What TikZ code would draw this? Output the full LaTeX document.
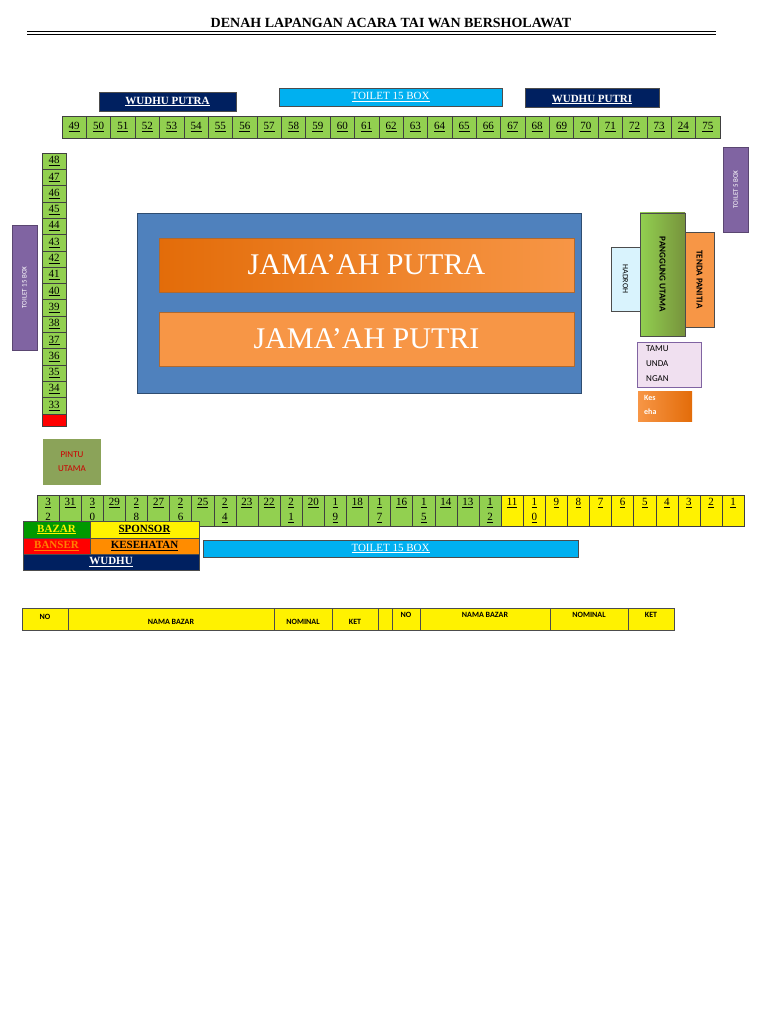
\documentclass[tikz,border=0pt]{standalone}
\usepackage{fontspec}
\setmainfont{Liberation Serif}
\newfontfamily\calib{Carlito}
\usetikzlibrary{shadows}
\begin{document}
\begin{tikzpicture}[x=1pt,y=-1pt,
 cell/.style={draw=black!75,line width=0.6pt},
 num/.style={font=\fontsize{11}{11}\selectfont},
 bx/.style={draw=black!70,line width=0.6pt},
 sans/.style={font=\calib\fontsize{9}{11}\selectfont}]
\definecolor{cg}{HTML}{92D050}
\definecolor{nv}{HTML}{002060}
\definecolor{cy}{HTML}{00B0F0}
\definecolor{pu}{HTML}{8064A2}
\definecolor{bl}{HTML}{4F81BD}
\definecolor{og}{HTML}{F79646}
\definecolor{ogd}{HTML}{E36C09}
\definecolor{dg}{HTML}{77933C}
\useasboundingbox (0,0) rectangle (768,1024);
\node[font=\bfseries\fontsize{14}{14}\selectfont] (title) at (391,23) {DENAH LAPANGAN ACARA TAI WAN BERSHOLAWAT};
\draw (27,31) -- (716,31); \draw (27,34) -- (716,34);
% top boxes
\draw[bx,fill=nv] (99,92) rectangle node[text=white,font=\bfseries\fontsize{11}{11}\selectfont]{\underline{WUDHU PUTRA}} (236,111);
\draw[bx,fill=cy] (279,88) rectangle node[text=white,font=\fontsize{11}{11}\selectfont]{\underline{TOILET 15 BOX}} (502,106);
\draw[bx,fill=nv] (525,88) rectangle node[text=white,font=\bfseries\fontsize{11}{11}\selectfont,yshift=-2pt]{\underline{WUDHU PUTRI}} (659,107);
% top row
\foreach \n [count=\i from 0] in {49,50,51,52,53,54,55,56,57,58,59,60,61,62,63,64,65,66,67,68,69,70,71,72,73,24,75}{
 \draw[cell,fill=cg] ({62+\i*24.37},116) rectangle node[num]{\underline{\n}} ({62+(\i+1)*24.37},138);}
% left column
\foreach \n [count=\i from 0] in {48,47,46,45,44,43,42,41,40,39,38,37,36,35,34,33}{
 \draw[cell,fill=cg] (42,{153+\i*16.3}) rectangle node[num]{\underline{\n}} (66,{153+(\i+1)*16.3});}
\draw[cell,fill=red] (42,{153+16*16.3}) rectangle (66,426);
% bottom row
\foreach \a/\b/\c [count=\i from 0] in {3/2/cg,31//cg,3/0/cg,29//cg,2/8/cg,27//cg,2/6/cg,25//cg,2/4/cg,23//cg,22//cg,2/1/cg,20//cg,1/9/cg,18//cg,1/7/cg,16//cg,1/5/cg,14//cg,13//cg,1/2/cg,11//yellow,1/0/yellow,9//yellow,8//yellow,7//yellow,6//yellow,5//yellow,4//yellow,3//yellow,2//yellow,1//yellow}{
 \draw[cell,fill=\c] ({37+\i*22.1},495) rectangle ({37+(\i+1)*22.1},526);
 \node[num,anchor=north,inner sep=0pt] at ({37+(\i+0.5)*22.1},498) {\underline{\a}};
 \node[num,anchor=north,inner sep=0pt] at ({37+(\i+0.5)*22.1},513) {\underline{\b}};}
% bottom-left legend
\draw[bx,fill=green!60!black] (23,521) rectangle node[font=\bfseries\fontsize{11}{11}\selectfont,text=yellow]{\underline{BAZAR}} (90,538);
\draw[bx,fill=yellow] (90,521) rectangle node[font=\bfseries\fontsize{11}{11}\selectfont]{\underline{SPONSOR}} (199,538);
\draw[bx,fill=red] (23,538) rectangle node[font=\bfseries\fontsize{11}{11}\selectfont,text=orange]{\underline{BANSER}} (90,554);
\draw[bx,fill=orange!90!yellow] (90,538) rectangle node[font=\bfseries\fontsize{11}{11}\selectfont]{\underline{KESEHATAN}} (199,554);
\draw[bx,fill=nv] (23,554) rectangle node[font=\bfseries\fontsize{11}{11}\selectfont,text=white]{\underline{WUDHU}} (199,570);
\draw[bx,fill=cy] (203,540) rectangle node[text=white,font=\fontsize{11}{11}\selectfont]{\underline{TOILET 15 BOX}} (578,557);
% field
\draw[draw=bl!60!black,fill=bl] (137,213) rectangle (581,393);
\draw[draw=og!70!black,left color=ogd,right color=og] (159,238) rectangle node[text=white,font=\fontsize{30}{30}\selectfont]{JAMA’AH PUTRA} (574,292);
\draw[draw=og!70!black,fill=og] (159,312) rectangle node[text=white,font=\fontsize{30}{30}\selectfont]{JAMA’AH PUTRI} (574,366);
% right side
\draw[bx,fill=cyan!15] (611,247) rectangle node[sans,rotate=-90,font=\calib\fontsize{8}{8}\selectfont]{HADROH} (640,311);
\draw[bx,fill=og] (685,232) rectangle node[rotate=-90,font=\calib\bfseries\fontsize{9}{9}\selectfont]{TENDA PANITIA} (714,327);
\draw[bx,left color=cg,right color=dg] (640,213) rectangle node[rotate=-90,font=\calib\bfseries\fontsize{9}{9}\selectfont]{PANGGUNG UTAMA} (685,336);
\draw[draw=pu,fill=violet!12] (637,342) rectangle (701,387);
\node[sans,align=left,anchor=north west,inner sep=0pt,font=\calib\fontsize{9}{15}\selectfont] (tamu) at (646,346) {TAMU\\UNDA\\NGAN};
\draw[draw=none,left color=og,right color=ogd] (638,391) rectangle (692,421);
\node[align=left,anchor=north west,inner sep=0pt,text=white,font=\calib\bfseries\fontsize{8}{14}\selectfont] (kes) at (644,395) {Kes\\eha};
\draw[draw=pu!70!black,fill=pu] (723,147) rectangle node[rotate=90,text=white,font=\calib\fontsize{7}{7}\selectfont]{TOILET 5 BOX} (748,232);
\draw[draw=pu!70!black,fill=pu] (12,225) rectangle node[rotate=90,text=white,font=\calib\fontsize{7}{7}\selectfont]{TOILET 15 BOX} (37,350);
\draw[draw=none,fill=dg!85!white] (43,439) rectangle node[align=center,text=red!80!black,font=\calib\fontsize{9}{14}\selectfont]{PINTU\\UTAMA} (101,485);
% bazar table
\foreach \x/\w/\t/\yy in {22/68/NO/617,68/274/NAMA BAZAR/622,274/332/NOMINAL/622,332/378/KET/622,378/392//617,392/420/NO/615,420/550/NAMA BAZAR/615,550/628/NOMINAL/615,628/674/KET/615}{
 \draw[bx,fill=yellow] (\x,608) rectangle (\w,630);
 \node[font=\calib\bfseries\fontsize{8}{8}\selectfont] at ({(\x+\w)/2},\yy) {\t};}
\end{tikzpicture}
\end{document}
